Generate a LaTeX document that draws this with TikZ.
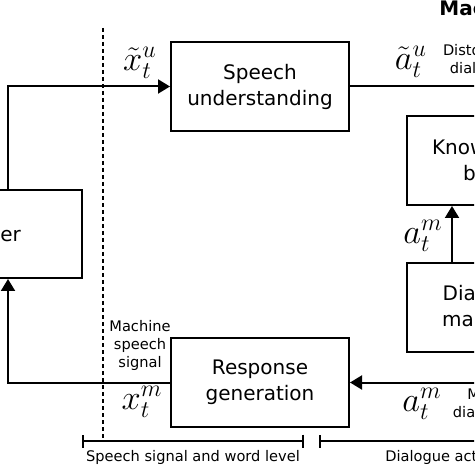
\documentclass[tikz,border=0pt]{standalone}
\usepackage{fontspec}
\setmainfont{DejaVu Sans}
\usetikzlibrary{arrows.meta}
\begin{document}
\begin{tikzpicture}[x=0.5pt,y=-0.5pt,
  box/.style={draw, line width=1pt, inner sep=0pt, align=center, font=\fontsize{10}{13}\selectfont},
  wide/.style={minimum width=89pt, minimum height=44.5pt},
  side/.style={minimum width=80pt, minimum height=44.5pt},
  mathlbl/.style={inner sep=0pt, font=\fontsize{18}{20}\selectfont},
  small/.style={inner sep=0pt, align=center, font=\fontsize{7.3}{9}\selectfont},
  conn/.style={line width=1pt},
  arr/.style={line width=1pt, -{Triangle[length=6pt,width=7pt]}},
  divider/.style={line width=0.8pt, dash pattern=on 2pt off 1.5pt},
  span/.style={line width=0.8pt, {Bar[width=6.5pt]}-{Bar[width=6.5pt]}}]
\useasboundingbox (0,0) rectangle (474,474);
\clip (0,0) rectangle (474,474);

% boxes
\node[box, wide] (su) at (260,86.5) {Speech\\understanding};
\node[box, wide] (rg) at (260,382.5) {Response\\generation};
\node[box, minimum width=84pt, minimum height=44pt] (user) at (-2,234) {User};
\node[box, side] (kb) at (487,160.5) {Knowledge\\base};
\node[box, side] (dm) at (487,307.5) {Dialogue\\manager};

% helper coordinates
\coordinate (ux) at (8,0);
\coordinate (kx) at (452,0);
\coordinate (rout) at (490,86.5);
\coordinate (rin) at (490,382.5);
\coordinate (dtop) at (103,28);
\coordinate (dbot) at (103,440);
\coordinate (b1l) at (82,441);
\coordinate (b1r) at (304,441);
\coordinate (b2l) at (319,441);
\coordinate (b2r) at (583,441);

% connectors
\draw[arr] (user.north -| ux) |- (su.west);
\draw[conn] (su.east) -- (rout);
\draw[arr] (rin) -- (rg.east);
\draw[arr] (rg.west) -| (user.south -| ux);
\draw[arr] (dm.north -| kx) -- (kb.south -| kx);

% divider
\draw[divider] (dtop) -- (dbot);

% level brackets
\draw[span] (b1l) -- (b1r);
\draw[span] (b2l) -- (b2r);
\node[small] (lv1) at (193,457) {Speech signal and word level};
\node[small] (lv2) at (451,457) {Dialogue act level};

% labels
\node[mathlbl] (l1) at (140,63) {$\tilde{x}_t^u$};
\node[mathlbl] (l2) at (411,62) {$\tilde{a}_t^u$};
\node[mathlbl] (l3) at (423,236) {$a_t^m$};
\node[mathlbl] (l4) at (422,404) {$a_t^m$};
\node[mathlbl] (l5) at (142,402) {$x_t^m$};

\node[small] (ms) at (140,345) {Machine\\speech\\signal};
\node[small] (mda) at (498,404) {Machine\\dialogue act};
\node[small] (dda) at (495,60) {Distorted user\\dialogue act};

\node[anchor=base west, inner sep=0pt, font=\bfseries\fontsize{10}{12}\selectfont] (mt) at (439,16) {Machine};
\end{tikzpicture}
\end{document}
